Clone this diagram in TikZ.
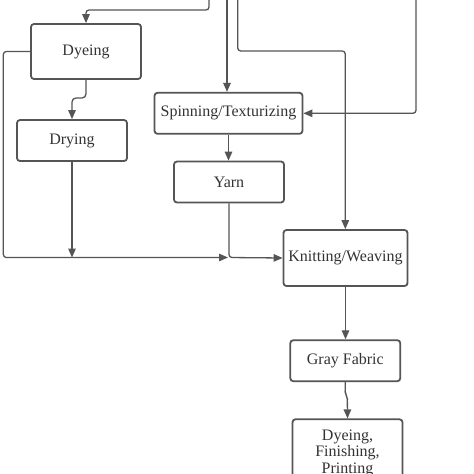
\documentclass[tikz,border=0pt]{standalone}
\usepackage{fontspec}
\setmainfont{Liberation Serif}
\usetikzlibrary{arrows.meta}
\definecolor{ln}{HTML}{555555}
\definecolor{tx}{HTML}{333333}
\tikzset{
  box/.style={draw=ln, line width=1.8pt, rounded corners=3pt, fill=white, text=tx, font=\fontsize{16}{16.5}\selectfont, inner sep=0pt, align=center},
  conn/.style={draw=ln, line width=1.3pt, rounded corners=3pt, -{Triangle[length=9pt,width=7.5pt]}},
  plain/.style={draw=ln, line width=1.3pt, rounded corners=3pt}
}
\begin{document}
\begin{tikzpicture}[x=1pt,y=-1pt]
\useasboundingbox (0,0) rectangle (474,474);
\fill[white] (0,0) rectangle (474,474);
\clip (0,0) rectangle (474,474);
\node[box, minimum width=110pt, minimum height=55pt] (dye) at (86,51.5) {Dyeing};
\node[box, minimum width=110pt, minimum height=41pt] (dry) at (72,140.5) {Drying};
\node[box, minimum width=148pt, minimum height=41pt] (spin) at (228.5,113.3) {Spinning/Texturizing};
\node[box, minimum width=110pt, minimum height=41pt] (yarn) at (229,182) {Yarn};
\node[box, minimum width=124pt, minimum height=56pt] (knit) at (345.5,258) {Knitting/Weaving};
\node[box, minimum width=110pt, minimum height=41pt] (gray) at (345.3,360.7) {Gray Fabric};
\node[box, minimum width=110pt, minimum height=68pt] (fin) at (347.5,453.3) {Dyeing,\\Finishing,\\Printing};
\coordinate (t1) at (209,-5);
\coordinate (t2) at (227,-5);
\coordinate (t3) at (237.7,-5);
\coordinate (t4) at (416,-5);
\coordinate (mid) at (228,257.5);
% top inputs
\draw[conn] (t1) -- (209,10) -- (86,10) -- (dye.north);
\draw[conn] (t2) -- (227,0) -- (spin.north -| 227,0);
\draw[conn] (t3) -- (237.7,51) -- (345.3,51) -- (knit.north -| 345.3,0);
\draw[conn] (t4) -- (416,113.3) -- (spin.east);
% dyeing to drying
\draw[conn, rounded corners=4pt] (dye.south) -- (86,98) -- (72,98) -- (dry.north);
% dyeing bypass
\draw[conn] (dye.west) -- (3.3,51.5) -- (3.3,257.5) -- (mid);
\draw[conn] (dry.south) -- (72,257.5);
% spinning to yarn
\draw[conn] (spin.south) -- (yarn.north -| spin.south);
\draw[conn] (yarn.south) -- (229,257.5) -- (knit.west);
\draw[conn] (knit.south) -- (gray.north -| knit.south);
\draw[conn, rounded corners=2pt] (gray.south) -- (345.3,394) -- (347.3,397) -- (fin.north);
\end{tikzpicture}
\end{document}
